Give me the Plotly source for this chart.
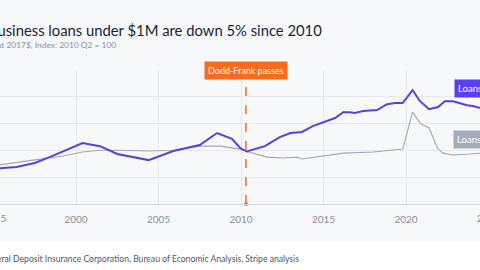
import plotly.graph_objects as go

# Data (index, 2010 Q2 = 100)
years_small = [1995.0, 1995.4, 1996.4, 1997.5, 1998.4, 2000.4, 2001.45, 2002.5, 2004.4, 2005.9,
               2007.5, 2008.55, 2009.45, 2009.95, 2010.35, 2011.45, 2012.35, 2013.0, 2013.7,
               2014.35, 2015.2, 2015.7, 2016.2, 2016.6, 2016.9, 2017.4, 2018.25, 2018.85,
               2019.35, 2019.8, 2020.4, 2020.85, 2021.4, 2021.95, 2022.35, 2022.85, 2023.7,
               2024.05, 2024.5, 2025.0]
loans_small = [93.2, 93.4, 93.8, 95.3, 97.5, 102.8, 101.6, 98.7, 96.4, 99.8,
               102.0, 106.5, 104.3, 100.9, 99.6, 101.6, 105.0, 106.5, 106.9,
               109.1, 111.0, 112.1, 114.3, 114.3, 114.0, 114.7, 115.1, 117.3,
               117.7, 117.7, 122.5, 118.4, 115.4, 116.2, 118.4, 118.4, 116.9,
               116.6, 115.8, 115.4]

years_large = [1995.0, 1995.4, 1997.4, 1999.2, 2000.4, 2001.45, 2002.5, 2004.5, 2005.9, 2007.5,
               2008.75, 2009.95, 2010.35, 2011.6, 2012.55, 2013.4, 2013.7, 2015.0, 2016.2,
               2018.0, 2018.85, 2019.8, 2020.4, 2020.85, 2021.4, 2021.9, 2022.25, 2022.85,
               2023.9, 2024.5, 2025.0]
loans_large = [94.3, 94.6, 96.4, 97.9, 99.4, 100.1, 100.1, 99.8, 100.1, 101.6,
               101.6, 100.5, 99.6, 97.5, 97.2, 97.5, 96.8, 97.9, 99.0,
               99.4, 99.8, 100.5, 114.3, 110.2, 108.4, 100.9, 99.0, 98.3,
               98.7, 99.0, 99.2]

tick_years = [2000, 2005, 2010, 2015, 2020]
edge_tick_labels = ["1995", "2025"]
dodd_frank_year = 2010.3

W, H = 480, 270
TOP, BOT = 70, 204
PH = BOT - TOP
X0, X1 = 1995.394, 2024.485

def py(pix):
    return (BOT - pix) / PH

def px(pix):
    return pix / W

PURPLE = "#5b3fdc"
GRAY_LINE = "#a3a8b0"
ORANGE = "#f76b1c"
FONT = "Lato"

fig = go.Figure()
fig.add_trace(go.Scatter(x=years_large, y=loans_large, mode="lines",
                         line=dict(color=GRAY_LINE, width=1.1), hoverinfo="skip"))
fig.add_trace(go.Scatter(x=years_small, y=loans_small, mode="lines",
                         line=dict(color=PURPLE, width=2), hoverinfo="skip"))
fig.add_trace(go.Scatter(x=[dodd_frank_year], y=[80], mode="markers",
                         marker=dict(color=ORANGE, size=4), cliponaxis=False, hoverinfo="skip"))

shapes = [
    dict(type="rect", xref="paper", yref="paper", x0=-0.1, x1=1.1, y0=py(241), y1=py(-10),
         fillcolor="#f6f8fa", line=dict(width=0), layer="below"),
    dict(type="line", xref="x", yref="paper", x0=dodd_frank_year, x1=dodd_frank_year,
         y0=0, y1=py(78), line=dict(color=ORANGE, width=1.5, dash="dash")),
]

annotations = [
    dict(text="Small business loans under $1M are down 5% since 2010", xref="paper", yref="paper",
         x=px(324), y=py(30), xanchor="right", yanchor="middle", showarrow=False,
         font=dict(family=FONT, size=14.8, color="#1a1f36")),
    dict(text="Constant 2017$, Index: 2010 Q2 = 100", xref="paper", yref="paper",
         x=px(118), y=py(45), xanchor="right", yanchor="middle", showarrow=False,
         font=dict(family=FONT, size=8.4, color="#8792a2")),
    dict(text="Source: Federal Deposit Insurance Corporation, Bureau of Economic Analysis, Stripe analysis",
         xref="paper", yref="paper", x=px(301), y=py(259), xanchor="right", yanchor="middle",
         showarrow=False, font=dict(family=FONT, size=8.6, color="#4f566b")),
    dict(text="Dodd-Frank passes", xref="x", yref="paper", x=dodd_frank_year, y=py(70.5),
         xanchor="center", yanchor="middle", showarrow=False, bgcolor=ORANGE, borderpad=3,
         font=dict(family=FONT, size=9, color="white")),
    dict(text="Loans under $1M", xref="paper", yref="paper", x=px(454), y=py(88),
         xanchor="left", yanchor="middle", showarrow=False, bgcolor="#5b3ff0", borderpad=3,
         font=dict(family=FONT, size=9.5, color="white")),
    dict(text="Loans over $1M", xref="paper", yref="paper", x=px(453), y=py(139.5),
         xanchor="left", yanchor="middle", showarrow=False, bgcolor="#a3acb9", borderpad=3,
         font=dict(family=FONT, size=9.5, color="white")),
    dict(text=edge_tick_labels[0], xref="paper", yref="paper", x=px(-6), y=py(218),
         xanchor="center", yanchor="middle", showarrow=False,
         font=dict(family=FONT, size=10, color="#8a9099")),
    dict(text=edge_tick_labels[1], xref="paper", yref="paper", x=px(488), y=py(218),
         xanchor="center", yanchor="middle", showarrow=False,
         font=dict(family=FONT, size=10, color="#8a9099")),
]

fig.update_layout(
    width=W, height=H,
    margin=dict(l=0, r=0, t=TOP, b=H - BOT, pad=0),
    paper_bgcolor="white", plot_bgcolor="rgba(0,0,0,0)",
    showlegend=False,
    shapes=shapes, annotations=annotations,
    xaxis=dict(range=[X0, X1], tickvals=tick_years, ticktext=[str(t) for t in tick_years],
               showgrid=True, gridcolor="#e6e9ee", gridwidth=1, zeroline=False,
               showline=True, linecolor="#d5d9df", linewidth=1, ticks="outside", ticklen=6,
               tickcolor="rgba(0,0,0,0)",
               tickfont=dict(family=FONT, size=10, color="#8a9099")),
    yaxis=dict(range=[80, 130.05], tickvals=[80, 90, 100, 110, 120, 130], showticklabels=False,
               showgrid=True, gridcolor="#e6e9ee", gridwidth=1, zeroline=False, showline=False),
)

fig.write_html("out.html")
